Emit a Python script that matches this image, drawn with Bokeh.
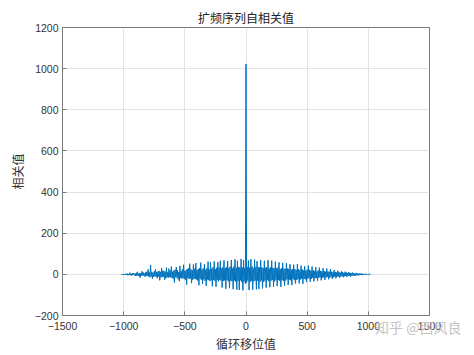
import numpy as np
from bokeh.plotting import figure
from bokeh.models import Range1d, FixedTicker
from bokeh.embed import file_html
from bokeh.resources import INLINE

# circular-shift values, read every 5 shifts
left_vals = [1, -1, 2, -2, 1, -3, 2, -1, 4, -2, 3, -5, 2, -3, 8, -4, 3, -6, 5, -3,
             6, -4, 3, -8, 5, -7, 12, -5, 4, -9, 7, -16, 6, -8, 15, -5, 9, -7, 4, -12,
             10, -8, 13, -6, 24, -11, 9, -14, 45, -10, 12, -22, 8, -13, 15, -9, 26, -12, 11, -18,
             14, -10, 17, -29, 12, -15, 31, -13, 18, -11, 16, -26, 13, -19, 33, -14, 10, -17, 28, -12,
             19, -15, 38, -17, 13, -21, 18, -40, 22, -14, 35, -16, 20, -24, 12, -33, 41, -18, 15, -20,
             24, -19, 47, -22, 16, -27, 21, -50, 26, -18, 30, -23, 52, -20, 25, -43, 19, -26, 48, -21,
             27, -22, 55, -25, 20, -30, 26, -53, 31, -21, 57, -27, 24, -46, 29, -24, 50, -31, 22, -56,
             30, -25, 62, -28, 23, -33, 60, -29, 27, -58, 34, -26, 63, -31, 25, -60, 32, -28, 59, -35,
             33, -27, 66, -30, 28, -64, 35, -32, 68, -29, 31, -70, 36, -28, 65, -34, 30, -67, 37, -31,
             70, -33, 29, -72, 38, -30, 73, -35, 32, -74, 66, -31, 36, -76, 34, -29, 75, -37, 33, -78,
             69, -34, 31, -45]
peak_val = 1023
right_vals = [-40, 35, -30, 68,
              -76, 33, -36, 74, -32, 38, -75, 29, -34, 72, -30, 35, -73, 64, -31, 36, -71, 33, -37, 70,
              -29, 34, -68, 31, -36, 66, -30, 32, -65, 35, -28, 69, -33, 29, -63, 34, -31, 67, -27, 32,
              -60, 30, -34, 62, -26, 29, -57, 33, -28, 58, -31, 25, -61, 30, -27, 56, -32, 28, -55, 26,
              -30, 54, -24, 28, -51, 27, -25, 49, -29, 23, -52, 26, -22, 47, -28, 25, -45, 21, -27, 50,
              -23, 26, -44, 20, -25, 42, -21, 24, -46, 19, -22, 40, -24, 18, -38, 23, -20, 43, -19, 22,
              -36, 18, -21, 38, -17, 20, -34, 16, -19, 35, -18, 14, -31, 19, -16, 33, -15, 17, -29, 15,
              -17, 30, -14, 16, -27, 13, -15, 28, -12, 14, -24, 12, -16, 25, -11, 13, -22, 10, -14, 21,
              -11, 12, -19, 9, -12, 18, -10, 11, -16, 8, -10, 15, -9, 11, -14, 7, -9, 13, -8, 9,
              -12, 7, -8, 10, -6, 8, -11, 6, -7, 9, -5, 6, -8, 4, -6, 7, -4, 5, -6, 3,
              -4, 5, -3, 4, -2, 3, -4, 2, -3, 2, -1, 3, -2, 1, -2, 1, -1, 1, -1, 0]

x_ticks = [-1500, -1000, -500, 0, 500, 1000, 1500]
y_ticks = [-200, 0, 200, 400, 600, 800, 1000, 1200]
watermark = "知乎 @西风良"

shifts = list(range(-1020, 0, 5)) + [0] + list(range(5, 1021, 5))
vals = left_vals + [peak_val] + right_vals

p = figure(width=474, height=355, output_backend="svg", toolbar_location=None,
           x_range=Range1d(-1500, 1500), y_range=Range1d(-200, 1200),
           min_border_left=62, min_border_right=45, min_border_top=27, min_border_bottom=40)

p.title.text = "扩频序列自相关值"
p.title.align = "center"
p.title.text_font = "Noto Sans CJK SC"
p.title.text_font_size = "12px"
p.title.text_font_style = "normal"
p.title.text_color = "#222222"
p.title.standoff = 4

p.line(shifts, vals, line_color="#0072BD", line_width=1)

p.background_fill_color = "white"
p.border_fill_color = "white"
p.outline_line_color = "#7a7a7a"
p.outline_line_width = 1

for ax in (p.xaxis, p.yaxis):
    ax.axis_line_color = "#7a7a7a"
    ax.major_tick_line_color = "#7a7a7a"
    ax.major_tick_in = 4
    ax.major_tick_out = 0
    ax.minor_tick_line_color = None
    ax.major_label_text_font = "Liberation Sans"
    ax.major_label_text_font_size = "10.5px"
    ax.major_label_text_color = "#333333"
    ax.axis_label_text_font = "Noto Sans CJK SC"
    ax.axis_label_text_font_size = "12px"
    ax.axis_label_text_font_style = "normal"
    ax.axis_label_text_color = "#333333"

p.xaxis.ticker = FixedTicker(ticks=x_ticks)
p.yaxis.ticker = FixedTicker(ticks=y_ticks)
p.xaxis.axis_label = "循环移位值"
p.yaxis.axis_label = "相关值"
p.xaxis.major_label_standoff = 6
p.yaxis.major_label_standoff = 4
p.xaxis.axis_label_standoff = 2
p.yaxis.axis_label_standoff = 6

p.grid.grid_line_color = "#e3e3e3"
p.grid.grid_line_width = 1

html = file_html(p, INLINE)
wm_div = ('<div style="position:absolute;left:375px;top:320px;z-index:10;'
          'font-family:\'Noto Sans CJK SC\';font-size:14px;line-height:14px;'
          'color:#c4c4c4;white-space:nowrap;pointer-events:none;">' + watermark + '</div>')
html = html.replace("</body>", wm_div + "</body>")
open("out.html", "w").write(html)
